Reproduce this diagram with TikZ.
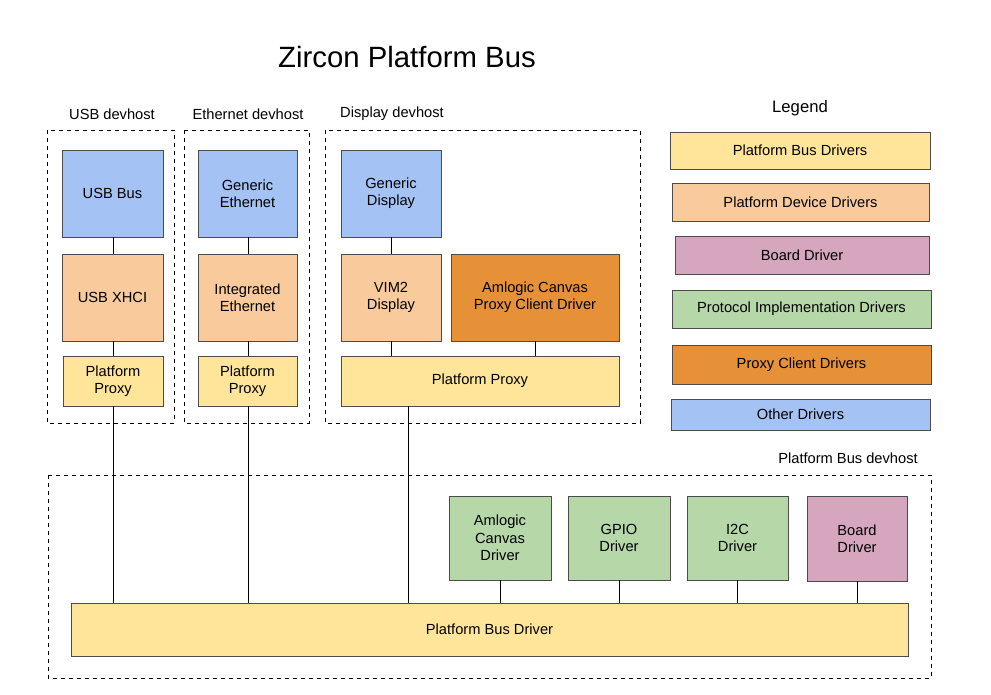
\documentclass[tikz,border=0pt]{standalone}
\usepackage{fontspec}
\setmainfont{Liberation Sans}
\definecolor{cblue}{HTML}{A4C2F4}
\definecolor{clor}{HTML}{F9CB9C}
\definecolor{cyel}{HTML}{FFE599}
\definecolor{cpink}{HTML}{D5A6BD}
\definecolor{cgreen}{HTML}{B6D7A8}
\definecolor{cdor}{HTML}{E69138}
\begin{document}
\begin{tikzpicture}[x=0.75pt,y=-0.75pt,
  box/.style={draw=black!70,line width=0.6pt},
  dframe/.style={draw,dashed,line width=0.6pt},
  lbl/.style={font=\fontsize{11}{13}\selectfont,align=center},
  ln/.style={line width=0.6pt}]
\path[use as bounding box,fill=white] (0,0) rectangle (991,694);
\newcommand{\bx}[6]{\path[box,fill=#6] (#2,#3) rectangle (#4,#5); \coordinate (#1) at ({(#2+#4)/2},{(#3+#5)/2});}
\node[font=\fontsize{22}{26}\selectfont] (title) at (407,57) {Zircon Platform Bus};
% devhost frames
\draw[dframe] (47,130) rectangle (174,423);
\draw[dframe] (184,130) rectangle (309,423);
\draw[dframe] (325,130) rectangle (640,423);
\draw[dframe] (48,475) rectangle (931,678);
\node[lbl] (l1) at (112,114) {USB devhost};
\node[lbl] (l2) at (248,114) {Ethernet devhost};
\node[lbl] (l3) at (392,114) {Display devhost};
\node[lbl] (l4) at (848,458) {Platform Bus devhost};
% boxes
\bx{usb}{62}{150}{163}{237}{cblue}
\bx{xhci}{62}{254}{163}{341}{clor}
\bx{pp1}{63}{356}{163}{406}{cyel}
\bx{geth}{198}{150}{297}{237}{cblue}
\bx{ieth}{198}{254}{297}{341}{clor}
\bx{pp2}{198}{356}{297}{406}{cyel}
\bx{gdisp}{341}{150}{441}{237}{cblue}
\bx{vim}{341}{254}{441}{341}{clor}
\bx{acp}{451}{254}{619}{341}{cdor}
\bx{pp3}{341}{356}{619}{406}{cyel}
\bx{acd}{449}{496}{551}{580}{cgreen}
\bx{gpio}{568}{496}{670}{580}{cgreen}
\bx{i2c}{687}{496}{788}{580}{cgreen}
\bx{bd}{807}{496}{907}{581}{cpink}
\bx{pbd}{71}{603}{908}{656}{cyel}
\node[lbl] at (usb) {USB Bus};
\node[lbl] at (xhci) {USB XHCI};
\node[lbl] at (pp1) {Platform\\Proxy};
\node[lbl] at (geth) {Generic\\Ethernet};
\node[lbl] at (ieth) {Integrated\\Ethernet};
\node[lbl] at (pp2) {Platform\\Proxy};
\node[lbl] at (gdisp) {Generic\\Display};
\node[lbl] at (vim) {VIM2\\Display};
\node[lbl] at (acp) {Amlogic Canvas\\Proxy Client Driver};
\node[lbl] at (pp3) {Platform Proxy};
\node[lbl] at (acd) {Amlogic\\Canvas\\Driver};
\node[lbl] at (gpio) {GPIO\\Driver};
\node[lbl] at (i2c) {I2C\\Driver};
\node[lbl] at (bd) {Board\\Driver};
\node[lbl] at (pbd) {Platform Bus Driver};
% legend
\node[font=\fontsize{12.5}{15}\selectfont] (leg) at (800,108) {Legend};
\bx{g1}{670}{132}{930}{169}{cyel}
\bx{g2}{672}{183}{929}{221}{clor}
\bx{g3}{675}{236}{929}{274}{cpink}
\bx{g4}{672}{290}{931}{328}{cgreen}
\bx{g5}{672}{345}{931}{384}{cdor}
\bx{g6}{671}{399}{930}{430}{cblue}
\node[lbl] at (g1) {Platform Bus Drivers};
\node[lbl] at (g2) {Platform Device Drivers};
\node[lbl] at (g3) {Board Driver};
\node[lbl] at (g4) {Protocol Implementation Drivers};
\node[lbl] at (g5) {Proxy Client Drivers};
\node[lbl] at (g6) {Other Drivers};
% connectors
\draw[ln] (113,237) -- (113,254);
\draw[ln] (113,341) -- (113,356);
\draw[ln] (113,406) -- (113,603);
\draw[ln] (248,237) -- (248,254);
\draw[ln] (248,341) -- (248,356);
\draw[ln] (248,406) -- (248,603);
\draw[ln] (391,237) -- (391,254);
\draw[ln] (391,341) -- (391,356);
\draw[ln] (535,341) -- (535,356);
\draw[ln] (408,406) -- (408,603);
\draw[ln] (500,580) -- (500,603);
\draw[ln] (619,580) -- (619,603);
\draw[ln] (737,580) -- (737,603);
\draw[ln] (857,581) -- (857,603);
\end{tikzpicture}
\end{document}
